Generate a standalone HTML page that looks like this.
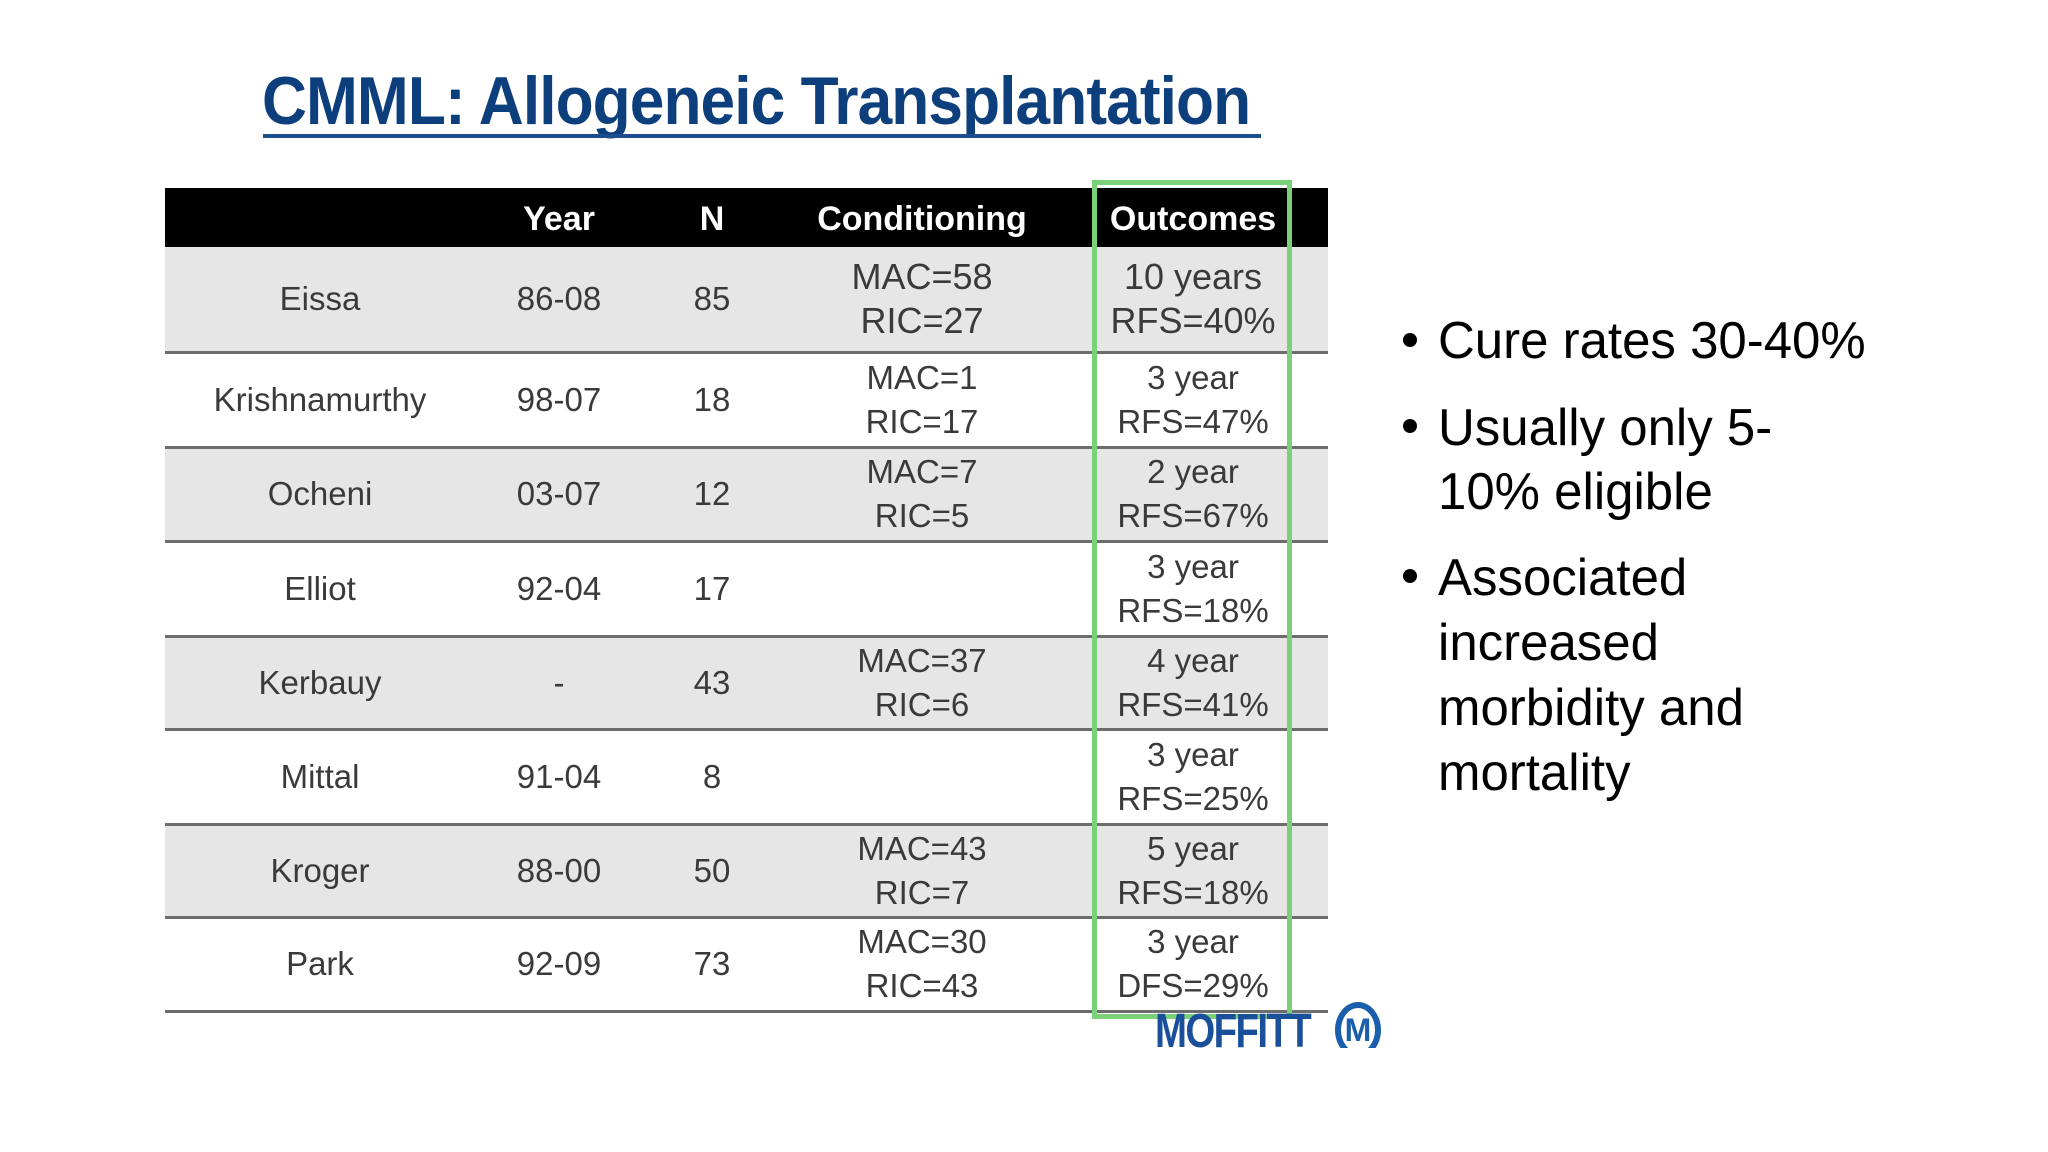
<!DOCTYPE html>
<html><head><meta charset="utf-8"><style>
body{margin:0;width:2048px;height:1152px;background:#fff;position:relative;overflow:hidden;font-family:"Liberation Sans",sans-serif}
.a{position:absolute}
.title{left:262px;top:62px;font-weight:bold;font-size:68px;color:#0d3f7d;white-space:nowrap;transform-origin:0 0;transform:scaleX(0.915);letter-spacing:-1px}
.ul{left:263px;top:134px;width:998px;height:4px;background:#1d4f8f}
.hdr{left:165px;top:188px;width:1163px;height:59px;background:#000}
.row{left:165px;width:1163px;border-bottom:3px solid #6d6d6d;box-sizing:border-box}
.c{position:absolute;transform:translateX(-50%);text-align:center;color:#3a3a3a;font-size:33px;line-height:44px;white-space:nowrap}
.h{position:absolute;transform:translateX(-50%);color:#fff;font-weight:bold;font-size:34px;top:200px;white-space:nowrap}
.green{left:1092px;top:180px;width:200px;height:839px;border:5px solid #7ad17a;box-sizing:border-box}
.b{position:absolute;left:1438px;font-size:52px;color:#000;white-space:nowrap;transform-origin:0 0;transform:scaleX(0.98)}
.dot{position:absolute;left:1403px;width:14px;height:14px;border-radius:50%;background:#000}
</style></head><body>
<div class="a title">CMML: Allogeneic Transplantation</div>
<div class="a ul"></div>
<div class="a hdr"></div>
<div class="h" style="left:559px">Year</div>
<div class="h" style="left:712px">N</div>
<div class="h" style="left:922px">Conditioning</div>
<div class="h" style="left:1193px">Outcomes</div>
<div id="rows"></div>
<div class="a green"></div>
<div class="a" style="left:1155px;top:1000px;width:235px;height:48px;overflow:hidden">
<div style="position:absolute;left:0;top:4px;font-weight:bold;font-size:48px;color:#1a4f9a;letter-spacing:-2px;transform:scaleX(0.8);transform-origin:0 0">MOFFITT</div>
<div style="position:absolute;left:180px;top:2px;width:46px;height:56px;border:6px solid #1a5fae;border-radius:50%;box-sizing:border-box;color:#1a5fae;font-weight:bold;font-size:32px;text-align:center;line-height:44px">M</div>
</div>
<div class="dot" style="top:333px"></div>
<div class="b" style="top:311px">Cure rates 30-40%</div>
<div class="dot" style="top:419px"></div>
<div class="b" style="top:396px;line-height:64px">Usually only 5-<br>10% eligible</div>
<div class="dot" style="top:569px"></div>
<div class="b" style="top:546px;line-height:65px">Associated<br>increased<br>morbidity and<br>mortality</div>
<script>
const names=["Eissa","Krishnamurthy","Ocheni","Elliot","Kerbauy","Mittal","Kroger","Park"];
const years=["86-08","98-07","03-07","92-04","-","91-04","88-00","92-09"];
const ns=["85","18","12","17","43","8","50","73"];
const conds=[["MAC=58","RIC=27"],["MAC=1","RIC=17"],["MAC=7","RIC=5"],[],["MAC=37","RIC=6"],[],["MAC=43","RIC=7"],["MAC=30","RIC=43"]];
const outs=[["10 years","RFS=40%"],["3 year","RFS=47%"],["2 year","RFS=67%"],["3 year","RFS=18%"],["4 year","RFS=41%"],["3 year","RFS=25%"],["5 year","RFS=18%"],["3 year","DFS=29%"]];
const bounds=[247,354,449,543,638,731,826,919,1013];
const cont=document.getElementById('rows');
for(let i=0;i<names.length;i++){
 const t=bounds[i],h=bounds[i+1]-t,mid=t+h/2;
 const r=document.createElement('div');r.className='a row';
 
 
 r.style.top=t+'px';r.style.height=h+'px';r.style.background=i%2==0?'#e6e6e6':'#fff';
 cont.appendChild(r);
 const cells=[[320,[names[i]]],[559,[years[i]]],[712,[ns[i]]],[922,conds[i]],[1193,outs[i]]];
 cells.forEach(([x,lines],j)=>{
  if(!lines.length)return;
  const c=document.createElement('div');c.className='c';
  
  
  c.innerHTML=lines.join('<br>');
  c.style.left=x+'px';c.style.top=(mid-lines.length*22-2)+'px';
  if(i==0&&j>=3){c.style.fontSize='36px';}
  cont.appendChild(c);
 });
}
</script>
</body></html>
